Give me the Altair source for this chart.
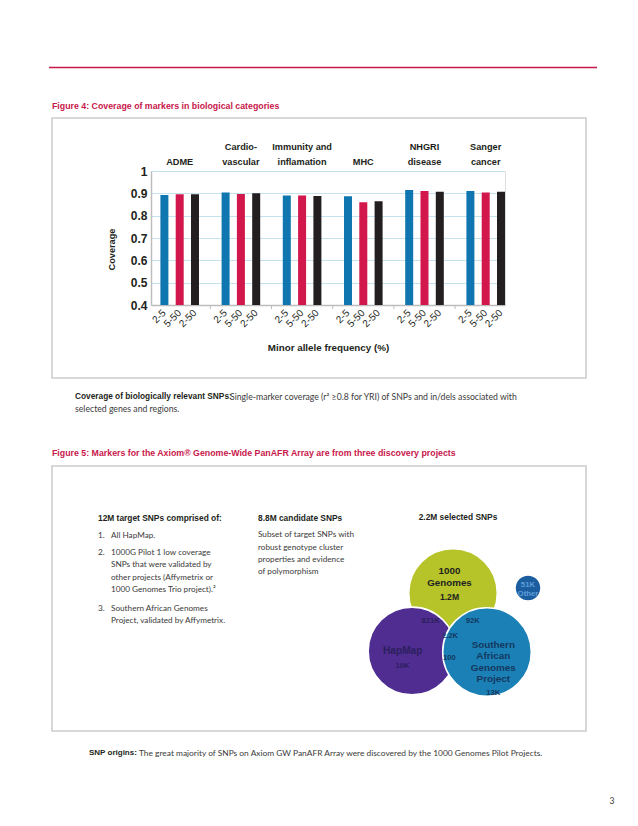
import math
import altair as alt
import pandas as pd

# ---------------- data ----------------
categories = ["ADME", "Cardio-vascular", "Immunity and inflamation", "MHC", "NHGRI disease", "Sanger cancer"]
cat_line1 = ["", "Cardio-", "Immunity and", "", "NHGRI", "Sanger"]
cat_line2 = ["ADME", "vascular", "inflamation", "MHC", "disease", "cancer"]
maf_bins = ["2-5", "5-50", "2-50"]
coverage_2_5 = [0.893, 0.904, 0.890, 0.887, 0.915, 0.910]
coverage_5_50 = [0.896, 0.897, 0.890, 0.860, 0.910, 0.904]
coverage_2_50 = [0.896, 0.900, 0.888, 0.864, 0.907, 0.907]
y_ticks = [0.4, 0.5, 0.6, 0.7, 0.8, 0.9, 1.0]

venn_sets = ["1000 Genomes", "HapMap", "Southern African Genomes Project", "Other"]
venn_counts = ["1.2M", "10K", "13K", "51K"]
venn_overlaps = ["821K", "92K", "2.2K", "100"]

# ---------------- styles / layout ----------------
maf_colors = ["#0f76b0", "#d2174c", "#231f20"]
ARIAL = "Liberation Sans"
BODY = "Lato"
RED = "#c8174b"
DARK = "#231f20"
GREY_TXT = "#3a3a3a"
OX, OY = 151, 171          # page position of the plot origin
W, H = 354, 134

rows, slots = [], []
for i, cat in enumerate(categories):
    if i > 0:
        slots.append(f"gap{i}")
    for m, vals in zip(maf_bins, [coverage_2_5, coverage_5_50, coverage_2_50]):
        key = f"{cat}|{m}"
        slots.append(key)
        rows.append({"slot": key, "category": cat, "maf": m, "coverage": vals[i]})
bars_df = pd.DataFrame(rows)
cat_df = pd.DataFrame({"slot": [f"{c}|{maf_bins[1]}" for c in categories],
                       "l1": cat_line1, "l2": cat_line2})
gap_df = pd.DataFrame({"slot": [s for s in slots if s.startswith("gap")]})

x_scale = alt.Scale(domain=slots, paddingInner=0.477, paddingOuter=0.307, align=1)
x_enc = alt.X("slot:N", scale=x_scale, axis=alt.Axis(
    title="Minor allele frequency (%)",
    labelExpr="indexof(datum.value,'|')>=0 ? split(datum.value,'|')[1] : ''",
    labelAngle=315, labelAlign="right", labelBaseline="middle",
    labelFont=ARIAL, labelFontSize=10, labelColor=DARK, labelPadding=6,
    labelOverlap=False, ticks=False, grid=False,
    domainColor="#bdbdbd", domainWidth=1.5,
    titleFont=ARIAL, titleFontSize=9.8, titleFontWeight="bold", titleColor=DARK,
    titleY=42, titleBaseline="middle"))

bars = alt.Chart(bars_df).mark_bar(width=8).encode(
    x=x_enc,
    y=alt.Y("coverage:Q", scale=alt.Scale(domain=[0.4, 1.0], zero=False, nice=False),
            axis=alt.Axis(values=y_ticks, format=".1~f", title="Coverage",
                          labelFont=ARIAL, labelFontSize=12, labelFontWeight="bold",
                          labelColor=DARK, labelPadding=4, ticks=False,
                          domainColor="#bdbdbd", domainWidth=1.5,
                          gridColor="#c4e3ee", gridWidth=1,
                          titleFont=ARIAL, titleFontSize=9.2, titleFontWeight="bold",
                          titleColor=DARK, titleAngle=270, titleX=-40, titleY=78,
                          titleAlign="center", titleBaseline="middle")),
    y2=alt.datum(0.4),
    color=alt.Color("maf:N", scale=alt.Scale(domain=maf_bins, range=maf_colors), legend=None),
)

gap_ticks = alt.Chart(gap_df).mark_rule(color="#bdbdbd", strokeWidth=1).encode(
    x=x_enc, y=alt.value(H), y2=alt.value(H + 4))

cat_top = alt.Chart(cat_df).mark_text(font=ARIAL, fontSize=9.2, fontWeight="bold",
                                      color=DARK, baseline="middle").encode(
    x=x_enc, y=alt.value(146.7 - OY), text="l1:N")
cat_bot = alt.Chart(cat_df).mark_text(font=ARIAL, fontSize=9.2, fontWeight="bold",
                                      color=DARK, baseline="middle").encode(
    x=x_enc, y=alt.value(162.3 - OY), text="l2:N")

ONE = [{"k": 0}]


def txt(s, x, y, size=8.0, weight="normal", color=DARK, font=ARIAL, align="left"):
    return alt.Chart(alt.Data(values=ONE)).mark_text(
        text=s, font=font, fontSize=size, fontWeight=weight, color=color,
        align=align, baseline="middle").encode(x=alt.value(x - OX), y=alt.value(y - OY))


def box(x1, y1, x2, y2):
    return alt.Chart(alt.Data(values=ONE)).mark_rect(
        fill="white", fillOpacity=0, stroke="#cdcdcd", strokeWidth=1.6).encode(
        x=alt.value(x1 - OX), x2=alt.value(x2 - OX), y=alt.value(y1 - OY), y2=alt.value(y2 - OY))


def circle(cx, cy, r, fill):
    return alt.Chart(alt.Data(values=ONE)).mark_circle(
        fill=fill, fillOpacity=1, opacity=1, stroke="white", strokeWidth=1.6).encode(
        x=alt.value(cx - OX), y=alt.value(cy - OY), size=alt.value(math.pi * r * r))


red_line = alt.Chart(alt.Data(values=ONE)).mark_rule(color=RED, strokeWidth=1.6).encode(
    x=alt.value(49 - OX), x2=alt.value(597 - OX), y=alt.value(67.5 - OY))

layers = [red_line, box(52, 118, 586, 378), box(52, 466, 586, 731),
          bars, gap_ticks, cat_top, cat_bot]

COL = 8.2
# page texts
layers += [
    txt("Figure 4: Coverage of markers in biological categories", 52, 106, 8.8, "bold", RED),
    txt("Coverage of biologically relevant SNPs:", 75, 397, 8.3, "bold", DARK),
    txt("Single-marker coverage (r² ≥0.8 for YRI) of SNPs and in/dels associated with", 230, 397, 8.7, "normal", GREY_TXT, BODY),
    txt("selected genes and regions.", 75, 409, 8.7, "normal", GREY_TXT, BODY),
    txt("Figure 5: Markers for the Axiom® Genome-Wide PanAFR Array are from three discovery projects", 52, 453, 8.8, "bold", RED),
    txt("SNP origins:", 89, 753, 8.0, "bold", DARK),
    txt("The great majority of SNPs on Axiom GW PanAFR Array were discovered by the 1000 Genomes Pilot Projects.", 139, 753, 8.4, "normal", GREY_TXT, BODY),
    txt("3", 612, 801, 8.5, "normal", GREY_TXT, BODY, "center"),
]

# figure 5 columns
layers += [
    txt("12M target SNPs comprised of:", 98, 518, 8.4, "bold", DARK),
    txt("1.", 98, 536, COL, "normal", GREY_TXT, BODY),
    txt("All HapMap.", 111, 536, COL, "normal", GREY_TXT, BODY),
    txt("2.", 98, 553, COL, "normal", GREY_TXT, BODY),
    txt("1000G Pilot 1 low coverage", 111, 553, COL, "normal", GREY_TXT, BODY),
    txt("SNPs that were validated by", 111, 565.3, COL, "normal", GREY_TXT, BODY),
    txt("other projects (Affymetrix or", 111, 577.7, COL, "normal", GREY_TXT, BODY),
    txt("1000 Genomes Trio project).²", 111, 589.5, COL, "normal", GREY_TXT, BODY),
    txt("3.", 98, 608.5, COL, "normal", GREY_TXT, BODY),
    txt("Southern African Genomes", 111, 608.5, COL, "normal", GREY_TXT, BODY),
    txt("Project, validated by Affymetrix.", 111, 620.5, COL, "normal", GREY_TXT, BODY),
    txt("8.8M candidate SNPs", 258, 518, 8.4, "bold", DARK),
    txt("Subset of target SNPs with", 258, 535, COL, "normal", GREY_TXT, BODY),
    txt("robust genotype cluster", 258, 547.5, COL, "normal", GREY_TXT, BODY),
    txt("properties and evidence", 258, 559.5, COL, "normal", GREY_TXT, BODY),
    txt("of polymorphism", 258, 571.5, COL, "normal", GREY_TXT, BODY),
    txt("2.2M selected SNPs", 458, 517, 8.4, "bold", DARK, ARIAL, "center"),
]

# venn diagram
layers += [
    circle(453, 593, 50, "#b6c42a"),
    circle(412, 651, 49.5, "#502d91"),
    circle(487, 652, 50, "#1a80b6"),
    circle(528, 588, 14.7, "#1b5d9f"),
]
NAVY = "#15385f"
PURP = "#2c1f5e"
layers += [
    txt("1000", 449.5, 571, 9.8, "bold", DARK, ARIAL, "center"),
    txt("Genomes", 449.5, 582.7, 9.8, "bold", DARK, ARIAL, "center"),
    txt(venn_counts[0], 449.5, 596.7, 8.6, "bold", DARK, ARIAL, "center"),
    txt(venn_counts[3], 528, 584.5, 7.8, "bold", "#5f9fd8", ARIAL, "center"),
    txt("Other", 528, 593.8, 7.8, "bold", "#5f9fd8", ARIAL, "center"),
    txt(venn_overlaps[0], 430.7, 620.7, 7.6, "bold", PURP, ARIAL, "center"),
    txt(venn_overlaps[1], 472.7, 620.7, 7.6, "bold", NAVY, ARIAL, "center"),
    txt(venn_overlaps[2], 450, 636, 7.6, "bold", NAVY, ARIAL, "center"),
    txt(venn_overlaps[3], 449.3, 658.3, 7.6, "bold", NAVY, ARIAL, "center"),
    txt(venn_sets[1], 402.7, 650.7, 10.2, "bold", PURP, ARIAL, "center"),
    txt(venn_counts[1], 402.5, 666, 7.6, "bold", PURP, ARIAL, "center"),
    txt("Southern", 493.3, 645, 9.9, "bold", NAVY, ARIAL, "center"),
    txt("African", 493.3, 656.3, 9.9, "bold", NAVY, ARIAL, "center"),
    txt("Genomes", 493.3, 667.7, 9.9, "bold", NAVY, ARIAL, "center"),
    txt("Project", 493.3, 679, 9.9, "bold", NAVY, ARIAL, "center"),
    txt(venn_counts[2], 493.3, 692.7, 7.6, "bold", NAVY, ARIAL, "center"),
]

chart = alt.layer(*layers).properties(
    width=W, height=H,
    autosize=alt.AutoSizeParams(type="none"),
    padding={"left": OX - 8, "top": OY - 8, "right": 622 - (OX - 8) - W, "bottom": 810 - (OY - 8) - H},
).configure_view(stroke=None).configure(background="white")

chart.save("out.html", embed_options={"renderer": "svg", "actions": False})
